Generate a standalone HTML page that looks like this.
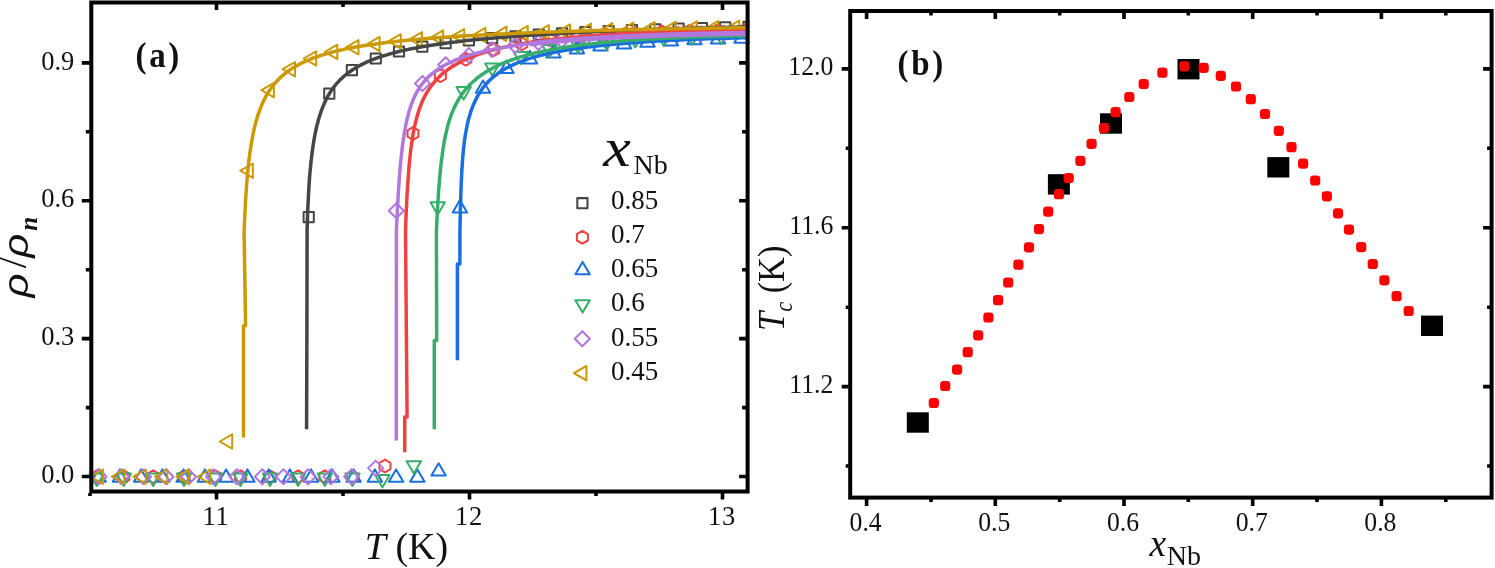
<!DOCTYPE html>
<html><head><meta charset="utf-8"><title>figure</title>
<style>html,body{margin:0;padding:0;background:#fff}body{width:1495px;height:568px;overflow:hidden}</style></head>
<body>
<svg width="1495" height="568" viewBox="0 0 1495 568" style="display:block;filter:blur(0.45px)">
<rect width="1495" height="568" fill="#fff"/>
<clipPath id="ca"><rect x="88.3" y="2.5" width="661.3" height="489.0"/></clipPath>
<g clip-path="url(#ca)" fill="none" stroke-linejoin="round">
<g stroke="#454545" stroke-width="2.0">
<rect x="303.6" y="212.1" width="10.2" height="10.2"/>
<rect x="324.2" y="88.6" width="10.2" height="10.2"/>
<rect x="346.8" y="65.1" width="10.2" height="10.2"/>
<rect x="370.7" y="53.4" width="10.2" height="10.2"/>
<rect x="393.9" y="46.4" width="10.2" height="10.2"/>
<rect x="417.2" y="41.6" width="10.2" height="10.2"/>
<rect x="440.5" y="38.0" width="10.2" height="10.2"/>
<rect x="463.8" y="35.2" width="10.2" height="10.2"/>
<rect x="487.1" y="33.0" width="10.2" height="10.2"/>
<rect x="510.4" y="31.2" width="10.2" height="10.2"/>
<rect x="533.7" y="29.6" width="10.2" height="10.2"/>
<rect x="557.0" y="28.2" width="10.2" height="10.2"/>
<rect x="580.3" y="27.1" width="10.2" height="10.2"/>
<rect x="603.6" y="26.0" width="10.2" height="10.2"/>
<rect x="626.9" y="25.1" width="10.2" height="10.2"/>
<rect x="650.2" y="24.3" width="10.2" height="10.2"/>
<rect x="673.5" y="23.6" width="10.2" height="10.2"/>
<rect x="696.8" y="22.9" width="10.2" height="10.2"/>
<rect x="720.1" y="22.3" width="10.2" height="10.2"/>
<rect x="743.4" y="21.8" width="10.2" height="10.2"/>
</g>
<g stroke="#F14040" stroke-width="2.0">
<polygon points="96.7,470.3 102.2,473.5 102.2,479.9 96.7,483.1 91.2,479.9 91.2,473.5"/>
<polygon points="123.8,470.3 129.3,473.5 129.3,479.9 123.8,483.1 118.3,479.9 118.3,473.5"/>
<polygon points="153.2,470.3 158.7,473.5 158.7,479.9 153.2,483.1 147.7,479.9 147.7,473.5"/>
<polygon points="184.0,470.3 189.5,473.5 189.5,479.9 184.0,483.1 178.5,479.9 178.5,473.5"/>
<polygon points="215.5,470.3 221.0,473.5 221.0,479.9 215.5,483.1 210.0,479.9 210.0,473.5"/>
<polygon points="240.5,470.3 246.0,473.5 246.0,479.9 240.5,483.1 235.0,479.9 235.0,473.5"/>
<polygon points="270.0,470.3 275.5,473.5 275.5,479.9 270.0,483.1 264.5,479.9 264.5,473.5"/>
<polygon points="298.1,470.3 303.6,473.5 303.6,479.9 298.1,483.1 292.6,479.9 292.6,473.5"/>
<polygon points="324.8,470.3 330.3,473.5 330.3,479.9 324.8,483.1 319.3,479.9 319.3,473.5"/>
<polygon points="352.5,470.3 358.0,473.5 358.0,479.9 352.5,483.1 347.0,479.9 347.0,473.5"/>
<polygon points="385.0,459.6 390.5,462.8 390.5,469.2 385.0,472.4 379.5,469.2 379.5,462.8"/>
<polygon points="413.0,127.1 418.5,130.3 418.5,136.7 413.0,139.9 407.5,136.7 407.5,130.3"/>
<polygon points="440.4,69.3 445.9,72.5 445.9,78.9 440.4,82.1 434.9,78.9 434.9,72.5"/>
<polygon points="465.8,52.9 471.3,56.1 471.3,62.5 465.8,65.7 460.3,62.5 460.3,56.1"/>
<polygon points="493.8,43.3 499.3,46.5 499.3,52.9 493.8,56.1 488.3,52.9 488.3,46.5"/>
<polygon points="521.8,37.4 527.3,40.6 527.3,47.0 521.8,50.2 516.3,47.0 516.3,40.6"/>
<polygon points="549.8,33.4 555.3,36.6 555.3,43.0 549.8,46.2 544.3,43.0 544.3,36.6"/>
<polygon points="577.8,30.5 583.3,33.7 583.3,40.1 577.8,43.3 572.3,40.1 572.3,33.7"/>
<polygon points="605.8,28.4 611.3,31.6 611.3,38.0 605.8,41.2 600.3,38.0 600.3,31.6"/>
<polygon points="633.8,26.8 639.3,30.0 639.3,36.4 633.8,39.6 628.3,36.4 628.3,30.0"/>
<polygon points="661.8,25.6 667.3,28.8 667.3,35.2 661.8,38.4 656.3,35.2 656.3,28.8"/>
<polygon points="689.8,24.7 695.3,27.9 695.3,34.3 689.8,37.5 684.3,34.3 684.3,27.9"/>
<polygon points="717.8,24.0 723.3,27.2 723.3,33.6 717.8,36.8 712.3,33.6 712.3,27.2"/>
<polygon points="745.8,23.5 751.3,26.7 751.3,33.1 745.8,36.3 740.3,33.1 740.3,26.7"/>
</g>
<g stroke="#1A6FDF" stroke-width="2.0">
<polygon points="417.4,469.4 424.6,481.8 410.2,481.8"/>
<polygon points="396.1,469.4 403.3,481.8 388.9,481.8"/>
<polygon points="374.9,469.4 382.1,481.8 367.7,481.8"/>
<polygon points="353.6,469.4 360.8,481.8 346.4,481.8"/>
<polygon points="332.4,469.4 339.6,481.8 325.2,481.8"/>
<polygon points="311.1,469.4 318.3,481.8 303.9,481.8"/>
<polygon points="289.9,469.4 297.1,481.8 282.7,481.8"/>
<polygon points="268.6,469.4 275.8,481.8 261.4,481.8"/>
<polygon points="247.4,469.4 254.6,481.8 240.2,481.8"/>
<polygon points="226.1,469.4 233.3,481.8 218.9,481.8"/>
<polygon points="204.9,469.4 212.1,481.8 197.7,481.8"/>
<polygon points="183.6,469.4 190.8,481.8 176.4,481.8"/>
<polygon points="162.4,469.4 169.6,481.8 155.2,481.8"/>
<polygon points="141.1,469.4 148.3,481.8 133.9,481.8"/>
<polygon points="119.9,469.4 127.1,481.8 112.7,481.8"/>
<polygon points="98.6,469.4 105.8,481.8 91.4,481.8"/>
<polygon points="438.6,463.2 445.8,475.6 431.4,475.6"/>
<polygon points="459.9,200.1 467.1,212.6 452.7,212.6"/>
<polygon points="483.0,80.4 490.2,92.8 475.8,92.8"/>
<polygon points="506.5,60.6 513.7,73.0 499.3,73.0"/>
<polygon points="530.0,50.9 537.2,63.4 522.8,63.4"/>
<polygon points="553.5,45.0 560.7,57.5 546.3,57.5"/>
<polygon points="577.0,41.0 584.2,53.4 569.8,53.4"/>
<polygon points="600.5,38.1 607.7,50.6 593.3,50.6"/>
<polygon points="624.0,35.9 631.2,48.4 616.8,48.4"/>
<polygon points="647.5,34.2 654.7,46.7 640.3,46.7"/>
<polygon points="671.0,32.9 678.2,45.4 663.8,45.4"/>
<polygon points="694.5,31.8 701.7,44.3 687.3,44.3"/>
<polygon points="718.0,31.0 725.2,43.4 710.8,43.4"/>
<polygon points="741.5,30.3 748.7,42.8 734.3,42.8"/>
</g>
<g stroke="#37AD6B" stroke-width="2.0">
<polygon points="96.7,485.9 103.9,473.5 89.5,473.5"/>
<polygon points="123.8,485.9 131.0,473.5 116.6,473.5"/>
<polygon points="153.2,485.9 160.4,473.5 146.0,473.5"/>
<polygon points="184.0,485.9 191.2,473.5 176.8,473.5"/>
<polygon points="215.5,485.9 222.7,473.5 208.3,473.5"/>
<polygon points="240.5,485.9 247.7,473.5 233.3,473.5"/>
<polygon points="270.0,485.9 277.2,473.5 262.8,473.5"/>
<polygon points="298.1,485.9 305.3,473.5 290.9,473.5"/>
<polygon points="324.8,485.9 332.0,473.5 317.6,473.5"/>
<polygon points="352.5,485.9 359.7,473.5 345.3,473.5"/>
<polygon points="382.4,487.5 389.6,475.1 375.2,475.1"/>
<polygon points="413.8,473.6 421.0,461.2 406.6,461.2"/>
<polygon points="437.7,214.7 444.9,202.2 430.5,202.2"/>
<polygon points="463.7,99.4 470.9,87.0 456.5,87.0"/>
<polygon points="492.3,75.8 499.5,63.4 485.1,63.4"/>
<polygon points="520.9,64.3 528.1,51.9 513.7,51.9"/>
<polygon points="549.5,57.4 556.7,45.0 542.3,45.0"/>
<polygon points="578.1,52.9 585.3,40.4 570.9,40.4"/>
<polygon points="606.7,49.7 613.9,37.3 599.5,37.3"/>
<polygon points="635.3,47.5 642.5,35.0 628.1,35.0"/>
<polygon points="663.9,45.9 671.1,33.4 656.7,33.4"/>
<polygon points="692.5,44.7 699.7,32.2 685.3,32.2"/>
<polygon points="721.1,43.9 728.3,31.4 713.9,31.4"/>
<polygon points="749.7,43.3 756.9,30.9 742.5,30.9"/>
</g>
<g stroke="#B177DE" stroke-width="2.0">
<polygon points="99.0,469.2 106.5,476.7 99.0,484.2 91.5,476.7"/>
<polygon points="121.5,469.2 129.0,476.7 121.5,484.2 114.0,476.7"/>
<polygon points="143.5,469.2 151.0,476.7 143.5,484.2 136.0,476.7"/>
<polygon points="166.0,469.2 173.5,476.7 166.0,484.2 158.5,476.7"/>
<polygon points="188.7,469.2 196.2,476.7 188.7,484.2 181.2,476.7"/>
<polygon points="213.4,469.2 220.9,476.7 213.4,484.2 205.9,476.7"/>
<polygon points="236.9,469.2 244.4,476.7 236.9,484.2 229.4,476.7"/>
<polygon points="262.3,469.2 269.8,476.7 262.3,484.2 254.8,476.7"/>
<polygon points="283.4,469.2 290.9,476.7 283.4,484.2 275.9,476.7"/>
<polygon points="308.1,469.2 315.6,476.7 308.1,484.2 300.6,476.7"/>
<polygon points="330.9,469.2 338.4,476.7 330.9,484.2 323.4,476.7"/>
<polygon points="351.6,469.2 359.1,476.7 351.6,484.2 344.1,476.7"/>
<polygon points="375.7,460.6 383.2,468.1 375.7,475.6 368.2,468.1"/>
<polygon points="396.3,203.3 403.8,210.8 396.3,218.3 388.8,210.8"/>
<polygon points="422.5,76.0 430.0,83.5 422.5,91.0 415.0,83.5"/>
<polygon points="445.7,57.2 453.2,64.7 445.7,72.2 438.2,64.7"/>
<polygon points="468.9,47.9 476.4,55.4 468.9,62.9 461.4,55.4"/>
<polygon points="492.1,42.1 499.6,49.6 492.1,57.1 484.6,49.6"/>
<polygon points="515.3,38.0 522.8,45.5 515.3,53.0 507.8,45.5"/>
<polygon points="538.5,35.0 546.0,42.5 538.5,50.0 531.0,42.5"/>
<polygon points="561.7,32.8 569.2,40.3 561.7,47.8 554.2,40.3"/>
<polygon points="584.9,31.0 592.4,38.5 584.9,46.0 577.4,38.5"/>
<polygon points="608.1,29.6 615.6,37.1 608.1,44.6 600.6,37.1"/>
<polygon points="631.3,28.5 638.8,36.0 631.3,43.5 623.8,36.0"/>
<polygon points="654.5,27.6 662.0,35.1 654.5,42.6 647.0,35.1"/>
<polygon points="677.7,26.8 685.2,34.3 677.7,41.8 670.2,34.3"/>
<polygon points="700.9,26.3 708.4,33.8 700.9,41.3 693.4,33.8"/>
<polygon points="724.1,25.8 731.6,33.3 724.1,40.8 716.6,33.3"/>
<polygon points="747.3,25.5 754.8,33.0 747.3,40.5 739.8,33.0"/>
</g>
<g stroke="#CC9900" stroke-width="2.0">
<polygon points="90.4,476.7 102.9,469.5 102.9,483.9"/>
<polygon points="111.9,476.7 124.4,469.5 124.4,483.9"/>
<polygon points="133.4,476.7 145.8,469.5 145.8,483.9"/>
<polygon points="154.9,476.7 167.3,469.5 167.3,483.9"/>
<polygon points="176.4,476.7 188.8,469.5 188.8,483.9"/>
<polygon points="197.9,476.7 210.3,469.5 210.3,483.9"/>
<polygon points="219.7,441.5 232.2,434.3 232.2,448.7"/>
<polygon points="240.3,170.7 252.8,163.5 252.8,177.9"/>
<polygon points="261.4,90.1 273.9,82.9 273.9,97.3"/>
<polygon points="282.6,69.2 295.0,62.0 295.0,76.4"/>
<polygon points="303.7,58.5 316.2,51.3 316.2,65.7"/>
<polygon points="324.9,51.9 337.3,44.7 337.3,59.1"/>
<polygon points="346.0,47.3 358.5,40.1 358.5,54.5"/>
<polygon points="367.2,44.0 379.6,36.8 379.6,51.2"/>
<polygon points="388.3,41.4 400.8,34.2 400.8,48.6"/>
<polygon points="409.5,39.3 421.9,32.1 421.9,46.5"/>
<polygon points="430.6,37.6 443.1,30.4 443.1,44.8"/>
<polygon points="451.8,36.2 464.2,29.0 464.2,43.4"/>
<polygon points="472.9,35.0 485.4,27.8 485.4,42.2"/>
<polygon points="494.1,33.9 506.5,26.7 506.5,41.1"/>
<polygon points="515.2,33.0 527.7,25.8 527.7,40.2"/>
<polygon points="536.4,32.2 548.8,25.0 548.8,39.4"/>
<polygon points="557.5,31.5 570.0,24.3 570.0,38.7"/>
<polygon points="578.7,30.9 591.1,23.7 591.1,38.1"/>
<polygon points="599.8,30.3 612.3,23.1 612.3,37.5"/>
<polygon points="621.0,29.8 633.4,22.6 633.4,37.0"/>
<polygon points="642.1,29.3 654.6,22.1 654.6,36.5"/>
<polygon points="663.3,28.9 675.7,21.7 675.7,36.1"/>
<polygon points="684.4,28.5 696.9,21.3 696.9,35.7"/>
<polygon points="705.6,28.2 718.0,21.0 718.0,35.4"/>
<polygon points="726.7,27.8 739.2,20.6 739.2,35.0"/>
</g>
<path d="M306.6 429.2 L306.9 330.0 L307.1 232.0 L307.1 231.9 L307.1 231.7 L307.1 231.2 L307.1 230.3 L307.1 229.1 L307.2 227.5 L307.2 225.5 L307.3 223.1 L307.4 220.4 L307.5 217.3 L307.6 214.0 L307.7 210.4 L307.9 206.7 L308.1 202.8 L308.3 198.8 L308.5 194.7 L308.7 190.6 L309.0 186.5 L309.2 182.4 L309.5 178.3 L309.8 174.3 L310.2 170.3 L310.6 166.4 L310.9 162.5 L311.4 158.7 L311.8 155.0 L312.3 151.3 L312.8 147.8 L313.3 144.3 L313.9 140.9 L314.4 137.6 L315.0 134.4 L315.7 131.2 L316.3 128.2 L317.0 125.2 L317.8 122.4 L318.5 119.6 L319.3 116.9 L320.2 114.2 L321.0 111.7 L321.9 109.3 L322.8 106.9 L323.8 104.6 L324.8 102.3 L325.8 100.2 L326.8 98.1 L327.9 96.1 L329.1 94.1 L330.2 92.2 L331.4 90.4 L332.7 88.6 L333.9 86.9 L335.2 85.3 L336.6 83.6 L338.0 82.1 L339.4 80.6 L340.9 79.1 L342.4 77.7 L343.9 76.3 L345.5 75.0 L347.1 73.7 L348.8 72.4 L350.5 71.2 L352.2 70.0 L354.0 68.9 L355.8 67.8 L357.7 66.7 L359.6 65.6 L361.6 64.6 L363.6 63.6 L365.6 62.7 L367.7 61.7 L369.8 60.8 L372.0 59.9 L374.2 59.0 L376.5 58.2 L378.8 57.4 L381.1 56.6 L383.5 55.8 L386.0 55.1 L388.5 54.3 L391.0 53.6 L393.6 52.9 L396.2 52.2 L398.9 51.5 L401.6 50.9 L404.4 50.3 L407.2 49.6 L410.1 49.0 L413.0 48.4 L416.0 47.9 L419.0 47.3 L422.0 46.7 L425.2 46.2 L428.3 45.7 L431.5 45.2 L434.8 44.7 L438.1 44.2 L441.5 43.7 L444.9 43.2 L448.4 42.8 L451.9 42.3 L455.5 41.9 L459.1 41.4 L462.8 41.0 L466.5 40.6 L470.3 40.2 L474.2 39.8 L478.0 39.4 L482.0 39.0 L486.0 38.7 L490.1 38.3 L494.2 37.9 L498.3 37.6 L502.6 37.2 L506.8 36.9 L511.2 36.6 L515.6 36.2 L520.0 35.9 L524.5 35.6 L529.1 35.3 L533.7 35.0 L538.4 34.7 L543.1 34.4 L547.9 34.1 L552.7 33.9 L557.6 33.6 L562.6 33.3 L567.6 33.1 L572.7 32.8 L577.8 32.5 L583.0 32.3 L588.3 32.0 L593.6 31.8 L599.0 31.6 L604.4 31.3 L609.9 31.1 L615.5 30.9 L621.1 30.7 L626.7 30.4 L632.5 30.2 L638.3 30.0 L644.1 29.8 L650.1 29.6 L656.1 29.4 L662.1 29.2 L668.2 29.0 L674.4 28.8 L680.6 28.6 L686.9 28.5 L693.3 28.3 L699.7 28.1 L706.2 27.9 L712.8 27.7 L719.4 27.6 L726.1 27.4 L732.8 27.2 L739.6 27.1 L746.5 26.9" stroke="#454545" stroke-width="3.5"/>
<path d="M404.7 452.3 L404.7 416.9 L407.1 416.9 L405.5 232.0 L405.5 232.0 L405.5 231.8 L405.5 231.5 L405.5 231.0 L405.5 230.3 L405.6 229.3 L405.6 228.1 L405.7 226.6 L405.7 224.8 L405.8 222.8 L405.9 220.5 L406.0 217.9 L406.1 215.0 L406.2 212.0 L406.4 208.7 L406.6 205.2 L406.7 201.6 L406.9 197.8 L407.1 193.9 L407.4 190.0 L407.6 185.9 L407.9 181.9 L408.2 177.8 L408.5 173.7 L408.8 169.7 L409.1 165.7 L409.5 161.7 L409.9 157.9 L410.3 154.1 L410.7 150.4 L411.2 146.8 L411.7 143.4 L412.2 140.0 L412.7 136.7 L413.2 133.6 L413.8 130.5 L414.4 127.5 L415.0 124.7 L415.6 121.9 L416.3 119.3 L417.0 116.7 L417.7 114.2 L418.4 111.8 L419.2 109.5 L420.0 107.3 L420.8 105.1 L421.7 103.0 L422.5 101.0 L423.4 99.0 L424.4 97.1 L425.3 95.3 L426.3 93.5 L427.3 91.8 L428.4 90.1 L429.5 88.4 L430.6 86.8 L431.7 85.3 L432.9 83.8 L434.1 82.3 L435.3 80.9 L436.6 79.5 L437.8 78.2 L439.2 76.9 L440.5 75.6 L441.9 74.3 L443.3 73.1 L444.8 71.9 L446.3 70.8 L447.8 69.6 L449.3 68.5 L450.9 67.5 L452.5 66.4 L454.2 65.4 L455.9 64.4 L457.6 63.4 L459.3 62.5 L461.1 61.6 L462.9 60.7 L464.8 59.8 L466.7 58.9 L468.6 58.1 L470.6 57.3 L472.6 56.5 L474.6 55.7 L476.7 55.0 L478.8 54.2 L481.0 53.5 L483.2 52.8 L485.4 52.1 L487.7 51.4 L490.0 50.8 L492.3 50.1 L494.7 49.5 L497.1 48.9 L499.6 48.3 L502.1 47.7 L504.6 47.1 L507.2 46.6 L509.8 46.0 L512.4 45.5 L515.1 45.0 L517.9 44.5 L520.6 44.0 L523.5 43.5 L526.3 43.0 L529.2 42.6 L532.2 42.1 L535.1 41.7 L538.2 41.3 L541.2 40.8 L544.3 40.4 L547.5 40.0 L550.7 39.7 L553.9 39.3 L557.2 38.9 L560.5 38.5 L563.9 38.2 L567.3 37.9 L570.7 37.5 L574.2 37.2 L577.8 36.9 L581.3 36.6 L585.0 36.3 L588.6 36.0 L592.4 35.7 L596.1 35.4 L599.9 35.2 L603.8 34.9 L607.7 34.6 L611.6 34.4 L615.6 34.2 L619.6 33.9 L623.7 33.7 L627.8 33.5 L632.0 33.3 L636.2 33.1 L640.5 32.9 L644.8 32.7 L649.2 32.5 L653.6 32.3 L658.0 32.1 L662.5 31.9 L667.1 31.8 L671.7 31.6 L676.3 31.5 L681.0 31.3 L685.7 31.2 L690.5 31.0 L695.4 30.9 L700.3 30.8 L705.2 30.7 L710.2 30.5 L715.2 30.4 L720.3 30.3 L725.5 30.2 L730.6 30.1 L735.9 30.0 L741.2 29.9 L746.5 29.8" stroke="#F14040" stroke-width="3.5"/>
<path d="M457.4 360.2 L457.4 264.0 L459.9 264.0 L459.9 232.0 L459.9 232.0 L459.9 231.7 L459.9 231.2 L459.9 230.5 L460.0 229.3 L460.0 227.8 L460.0 226.0 L460.1 223.7 L460.1 221.1 L460.2 218.1 L460.3 214.8 L460.3 211.2 L460.4 207.4 L460.6 203.4 L460.7 199.2 L460.8 194.9 L461.0 190.6 L461.1 186.2 L461.3 181.9 L461.5 177.7 L461.7 173.6 L461.9 169.5 L462.2 165.6 L462.4 161.8 L462.7 158.2 L463.0 154.7 L463.3 151.3 L463.6 148.1 L464.0 145.0 L464.3 142.1 L464.7 139.2 L465.1 136.5 L465.5 133.9 L466.0 131.3 L466.4 128.9 L466.9 126.5 L467.4 124.2 L467.9 122.0 L468.4 119.8 L469.0 117.7 L469.6 115.7 L470.2 113.7 L470.8 111.8 L471.4 109.9 L472.1 108.1 L472.8 106.3 L473.5 104.5 L474.3 102.8 L475.0 101.2 L475.8 99.6 L476.6 98.0 L477.4 96.4 L478.3 94.9 L479.2 93.5 L480.1 92.0 L481.0 90.6 L482.0 89.3 L482.9 87.9 L483.9 86.6 L485.0 85.4 L486.0 84.1 L487.1 82.9 L488.2 81.8 L489.4 80.6 L490.5 79.5 L491.7 78.4 L492.9 77.3 L494.2 76.3 L495.5 75.3 L496.8 74.3 L498.1 73.3 L499.4 72.4 L500.8 71.4 L502.3 70.5 L503.7 69.7 L505.2 68.8 L506.7 68.0 L508.2 67.2 L509.8 66.4 L511.4 65.6 L513.0 64.8 L514.6 64.1 L516.3 63.4 L518.0 62.6 L519.8 62.0 L521.6 61.3 L523.4 60.6 L525.2 60.0 L527.1 59.3 L529.0 58.7 L530.9 58.1 L532.9 57.5 L534.9 57.0 L536.9 56.4 L539.0 55.8 L541.1 55.3 L543.2 54.8 L545.4 54.3 L547.6 53.8 L549.8 53.3 L552.1 52.8 L554.4 52.3 L556.7 51.9 L559.1 51.4 L561.5 51.0 L563.9 50.6 L566.4 50.1 L568.9 49.7 L571.4 49.3 L574.0 48.9 L576.6 48.6 L579.3 48.2 L581.9 47.8 L584.7 47.5 L587.4 47.1 L590.2 46.8 L593.0 46.4 L595.9 46.1 L598.8 45.8 L601.7 45.5 L604.7 45.2 L607.7 44.9 L610.8 44.6 L613.8 44.3 L617.0 44.0 L620.1 43.7 L623.3 43.5 L626.6 43.2 L629.8 43.0 L633.1 42.7 L636.5 42.5 L639.9 42.2 L643.3 42.0 L646.8 41.8 L650.3 41.6 L653.8 41.3 L657.4 41.1 L661.0 40.9 L664.7 40.7 L668.4 40.5 L672.1 40.3 L675.9 40.2 L679.7 40.0 L683.6 39.8 L687.5 39.6 L691.5 39.5 L695.4 39.3 L699.5 39.1 L703.5 39.0 L707.6 38.8 L711.8 38.7 L716.0 38.6 L720.2 38.4 L724.5 38.3 L728.8 38.2 L733.2 38.0 L737.6 37.9 L742.0 37.8 L746.5 37.7" stroke="#1A6FDF" stroke-width="3.5"/>
<path d="M434.3 429.2 L434.3 340.5 L436.7 340.5 L436.4 232.0 L436.4 232.0 L436.4 231.9 L436.4 231.6 L436.4 231.3 L436.5 230.7 L436.5 230.0 L436.5 229.0 L436.6 227.9 L436.7 226.5 L436.7 224.9 L436.8 223.1 L436.9 221.1 L437.0 218.8 L437.1 216.4 L437.3 213.8 L437.4 210.9 L437.6 208.0 L437.8 204.8 L437.9 201.6 L438.2 198.2 L438.4 194.8 L438.6 191.2 L438.9 187.7 L439.2 184.0 L439.5 180.4 L439.8 176.8 L440.1 173.2 L440.5 169.6 L440.8 166.1 L441.2 162.6 L441.6 159.2 L442.1 155.8 L442.5 152.5 L443.0 149.3 L443.5 146.2 L444.0 143.2 L444.5 140.2 L445.1 137.4 L445.7 134.6 L446.3 131.9 L446.9 129.3 L447.5 126.8 L448.2 124.3 L448.9 121.9 L449.6 119.6 L450.4 117.4 L451.1 115.2 L451.9 113.1 L452.8 111.1 L453.6 109.1 L454.5 107.2 L455.4 105.3 L456.3 103.5 L457.3 101.8 L458.2 100.1 L459.2 98.4 L460.3 96.8 L461.3 95.2 L462.4 93.6 L463.5 92.1 L464.7 90.7 L465.9 89.2 L467.1 87.8 L468.3 86.5 L469.5 85.1 L470.8 83.8 L472.2 82.5 L473.5 81.3 L474.9 80.1 L476.3 78.9 L477.7 77.7 L479.2 76.6 L480.7 75.5 L482.2 74.4 L483.8 73.4 L485.4 72.3 L487.0 71.3 L488.7 70.3 L490.4 69.4 L492.1 68.4 L493.9 67.5 L495.6 66.6 L497.5 65.7 L499.3 64.8 L501.2 64.0 L503.1 63.2 L505.1 62.4 L507.1 61.6 L509.1 60.8 L511.2 60.0 L513.3 59.3 L515.4 58.6 L517.5 57.9 L519.7 57.2 L522.0 56.5 L524.3 55.9 L526.6 55.2 L528.9 54.6 L531.3 54.0 L533.7 53.4 L536.1 52.8 L538.6 52.2 L541.1 51.7 L543.7 51.1 L546.3 50.6 L548.9 50.1 L551.6 49.5 L554.3 49.1 L557.1 48.6 L559.9 48.1 L562.7 47.6 L565.5 47.2 L568.4 46.7 L571.4 46.3 L574.4 45.9 L577.4 45.5 L580.4 45.1 L583.5 44.7 L586.7 44.3 L589.9 44.0 L593.1 43.6 L596.3 43.3 L599.6 42.9 L603.0 42.6 L606.3 42.3 L609.8 42.0 L613.2 41.7 L616.7 41.4 L620.3 41.1 L623.8 40.8 L627.5 40.5 L631.1 40.3 L634.8 40.0 L638.6 39.8 L642.4 39.5 L646.2 39.3 L650.1 39.1 L654.0 38.9 L658.0 38.6 L662.0 38.4 L666.0 38.2 L670.1 38.1 L674.3 37.9 L678.5 37.7 L682.7 37.5 L687.0 37.4 L691.3 37.2 L695.6 37.1 L700.0 36.9 L704.5 36.8 L709.0 36.7 L713.5 36.5 L718.1 36.4 L722.7 36.3 L727.4 36.2 L732.1 36.1 L736.8 36.0 L741.6 35.9 L746.5 35.9" stroke="#37AD6B" stroke-width="3.5"/>
<path d="M396.3 440.5 L396.4 232.0 L396.4 232.0 L396.4 231.8 L396.4 231.6 L396.4 231.1 L396.4 230.5 L396.5 229.6 L396.5 228.6 L396.6 227.2 L396.6 225.6 L396.7 223.8 L396.8 221.7 L396.9 219.4 L397.0 216.8 L397.2 213.9 L397.3 210.9 L397.5 207.6 L397.7 204.2 L397.9 200.5 L398.1 196.8 L398.3 192.9 L398.6 188.9 L398.9 184.8 L399.1 180.6 L399.5 176.5 L399.8 172.3 L400.1 168.1 L400.5 164.0 L400.9 159.9 L401.3 155.8 L401.8 151.8 L402.2 147.9 L402.7 144.1 L403.2 140.4 L403.8 136.8 L404.3 133.3 L404.9 130.0 L405.5 126.7 L406.1 123.6 L406.8 120.5 L407.5 117.6 L408.2 114.8 L408.9 112.1 L409.7 109.5 L410.5 107.1 L411.3 104.7 L412.1 102.4 L413.0 100.2 L413.9 98.1 L414.8 96.1 L415.8 94.1 L416.8 92.3 L417.8 90.5 L418.8 88.8 L419.9 87.1 L421.0 85.5 L422.1 84.0 L423.3 82.5 L424.5 81.1 L425.7 79.7 L427.0 78.3 L428.3 77.0 L429.6 75.8 L431.0 74.6 L432.4 73.4 L433.8 72.3 L435.2 71.2 L436.7 70.1 L438.2 69.1 L439.8 68.1 L441.4 67.1 L443.0 66.1 L444.7 65.2 L446.4 64.3 L448.1 63.5 L449.9 62.6 L451.7 61.8 L453.5 61.0 L455.4 60.2 L457.3 59.4 L459.2 58.7 L461.2 57.9 L463.2 57.2 L465.3 56.5 L467.4 55.9 L469.5 55.2 L471.7 54.5 L473.9 53.9 L476.2 53.3 L478.4 52.7 L480.8 52.1 L483.1 51.5 L485.5 51.0 L488.0 50.4 L490.5 49.9 L493.0 49.4 L495.5 48.9 L498.1 48.4 L500.8 47.9 L503.5 47.4 L506.2 46.9 L509.0 46.5 L511.8 46.0 L514.6 45.6 L517.5 45.2 L520.4 44.8 L523.4 44.4 L526.4 44.0 L529.5 43.6 L532.6 43.2 L535.7 42.9 L538.9 42.5 L542.2 42.1 L545.4 41.8 L548.8 41.5 L552.1 41.1 L555.5 40.8 L559.0 40.5 L562.5 40.2 L566.0 39.9 L569.6 39.6 L573.3 39.3 L576.9 39.1 L580.7 38.8 L584.4 38.5 L588.2 38.3 L592.1 38.0 L596.0 37.8 L600.0 37.6 L604.0 37.3 L608.0 37.1 L612.1 36.9 L616.2 36.7 L620.4 36.5 L624.7 36.3 L628.9 36.1 L633.3 35.9 L637.7 35.7 L642.1 35.5 L646.6 35.4 L651.1 35.2 L655.7 35.0 L660.3 34.9 L664.9 34.7 L669.7 34.6 L674.4 34.4 L679.3 34.3 L684.1 34.2 L689.0 34.0 L694.0 33.9 L699.0 33.8 L704.1 33.7 L709.2 33.6 L714.4 33.5 L719.6 33.4 L724.9 33.3 L730.2 33.2 L735.6 33.1 L741.0 33.0 L746.5 33.0" stroke="#B177DE" stroke-width="3.5"/>
<clipPath id="ct"><rect x="530" y="0" width="230" height="120"/></clipPath>
<path d="M396.3 440.5 L396.4 232.0 L396.4 232.0 L396.4 231.8 L396.4 231.6 L396.4 231.1 L396.4 230.5 L396.5 229.6 L396.5 228.6 L396.6 227.2 L396.6 225.6 L396.7 223.8 L396.8 221.7 L396.9 219.4 L397.0 216.8 L397.2 213.9 L397.3 210.9 L397.5 207.6 L397.7 204.2 L397.9 200.5 L398.1 196.8 L398.3 192.9 L398.6 188.9 L398.9 184.8 L399.1 180.6 L399.5 176.5 L399.8 172.3 L400.1 168.1 L400.5 164.0 L400.9 159.9 L401.3 155.8 L401.8 151.8 L402.2 147.9 L402.7 144.1 L403.2 140.4 L403.8 136.8 L404.3 133.3 L404.9 130.0 L405.5 126.7 L406.1 123.6 L406.8 120.5 L407.5 117.6 L408.2 114.8 L408.9 112.1 L409.7 109.5 L410.5 107.1 L411.3 104.7 L412.1 102.4 L413.0 100.2 L413.9 98.1 L414.8 96.1 L415.8 94.1 L416.8 92.3 L417.8 90.5 L418.8 88.8 L419.9 87.1 L421.0 85.5 L422.1 84.0 L423.3 82.5 L424.5 81.1 L425.7 79.7 L427.0 78.3 L428.3 77.0 L429.6 75.8 L431.0 74.6 L432.4 73.4 L433.8 72.3 L435.2 71.2 L436.7 70.1 L438.2 69.1 L439.8 68.1 L441.4 67.1 L443.0 66.1 L444.7 65.2 L446.4 64.3 L448.1 63.5 L449.9 62.6 L451.7 61.8 L453.5 61.0 L455.4 60.2 L457.3 59.4 L459.2 58.7 L461.2 57.9 L463.2 57.2 L465.3 56.5 L467.4 55.9 L469.5 55.2 L471.7 54.5 L473.9 53.9 L476.2 53.3 L478.4 52.7 L480.8 52.1 L483.1 51.5 L485.5 51.0 L488.0 50.4 L490.5 49.9 L493.0 49.4 L495.5 48.9 L498.1 48.4 L500.8 47.9 L503.5 47.4 L506.2 46.9 L509.0 46.5 L511.8 46.0 L514.6 45.6 L517.5 45.2 L520.4 44.8 L523.4 44.4 L526.4 44.0 L529.5 43.6 L532.6 43.2 L535.7 42.9 L538.9 42.5 L542.2 42.1 L545.4 41.8 L548.8 41.5 L552.1 41.1 L555.5 40.8 L559.0 40.5 L562.5 40.2 L566.0 39.9 L569.6 39.6 L573.3 39.3 L576.9 39.1 L580.7 38.8 L584.4 38.5 L588.2 38.3 L592.1 38.0 L596.0 37.8 L600.0 37.6 L604.0 37.3 L608.0 37.1 L612.1 36.9 L616.2 36.7 L620.4 36.5 L624.7 36.3 L628.9 36.1 L633.3 35.9 L637.7 35.7 L642.1 35.5 L646.6 35.4 L651.1 35.2 L655.7 35.0 L660.3 34.9 L664.9 34.7 L669.7 34.6 L674.4 34.4 L679.3 34.3 L684.1 34.2 L689.0 34.0 L694.0 33.9 L699.0 33.8 L704.1 33.7 L709.2 33.6 L714.4 33.5 L719.6 33.4 L724.9 33.3 L730.2 33.2 L735.6 33.1 L741.0 33.0 L746.5 33.0" stroke="#B177DE" stroke-width="5.2" transform="translate(0,0.4)" clip-path="url(#ct)"/>
<path d="M243.5 437.6 L243.5 325.7 L245.6 325.7 L244.1 232.0 L244.1 232.0 L244.1 231.8 L244.1 231.4 L244.2 230.7 L244.2 229.7 L244.3 228.4 L244.3 226.8 L244.4 224.8 L244.5 222.4 L244.6 219.8 L244.8 216.8 L244.9 213.5 L245.1 210.0 L245.3 206.3 L245.5 202.3 L245.7 198.2 L246.0 194.0 L246.3 189.6 L246.6 185.3 L246.9 180.9 L247.3 176.5 L247.7 172.2 L248.1 167.9 L248.6 163.6 L249.0 159.5 L249.6 155.4 L250.1 151.4 L250.7 147.5 L251.3 143.8 L251.9 140.1 L252.6 136.5 L253.3 133.1 L254.0 129.7 L254.7 126.5 L255.5 123.4 L256.4 120.3 L257.2 117.4 L258.1 114.5 L259.1 111.8 L260.1 109.1 L261.1 106.6 L262.1 104.1 L263.2 101.7 L264.4 99.4 L265.5 97.1 L266.7 94.9 L268.0 92.8 L269.3 90.8 L270.6 88.9 L272.0 87.0 L273.4 85.1 L274.9 83.4 L276.3 81.7 L277.9 80.0 L279.5 78.4 L281.1 76.9 L282.8 75.4 L284.5 73.9 L286.3 72.5 L288.1 71.2 L289.9 69.9 L291.8 68.6 L293.8 67.4 L295.8 66.2 L297.8 65.1 L299.9 64.0 L302.0 62.9 L304.2 61.8 L306.4 60.8 L308.7 59.9 L311.1 58.9 L313.4 58.0 L315.9 57.1 L318.4 56.3 L320.9 55.4 L323.5 54.6 L326.1 53.8 L328.8 53.1 L331.5 52.3 L334.3 51.6 L337.2 50.9 L340.1 50.2 L343.0 49.6 L346.0 48.9 L349.1 48.3 L352.2 47.7 L355.4 47.1 L358.6 46.6 L361.9 46.0 L365.2 45.5 L368.6 44.9 L372.1 44.4 L375.6 43.9 L379.1 43.5 L382.7 43.0 L386.4 42.5 L390.2 42.1 L394.0 41.7 L397.8 41.2 L401.7 40.8 L405.7 40.4 L409.7 40.0 L413.8 39.6 L418.0 39.3 L422.2 38.9 L426.4 38.6 L430.8 38.2 L435.1 37.9 L439.6 37.5 L444.1 37.2 L448.7 36.9 L453.3 36.6 L458.0 36.3 L462.8 36.0 L467.6 35.7 L472.5 35.4 L477.5 35.2 L482.5 34.9 L487.6 34.6 L492.7 34.4 L497.9 34.1 L503.2 33.9 L508.5 33.7 L514.0 33.4 L519.4 33.2 L525.0 33.0 L530.6 32.7 L536.2 32.5 L542.0 32.3 L547.8 32.1 L553.7 31.9 L559.6 31.7 L565.6 31.5 L571.7 31.3 L577.8 31.2 L584.0 31.0 L590.3 30.8 L596.7 30.6 L603.1 30.5 L609.6 30.3 L616.2 30.1 L622.8 30.0 L629.5 29.8 L636.3 29.7 L643.1 29.5 L650.0 29.4 L657.0 29.2 L664.1 29.1 L671.2 28.9 L678.4 28.8 L685.7 28.7 L693.0 28.5 L700.4 28.4 L707.9 28.3 L715.5 28.1 L723.1 28.0 L730.9 27.9 L738.6 27.8 L746.5 27.7" stroke="#CC9900" stroke-width="3.5"/>
</g>
<g stroke="#000" fill="none" stroke-width="4">
<rect x="91.3" y="2.5" width="656.3" height="489.0"/>
<path d="M216.5 493.0 v6.5 M216.5 4.0 v6 M469.5 493.0 v6.5 M469.5 4.0 v6 M722.5 493.0 v6.5 M722.5 4.0 v6 M90.0 493.0 v3 M343.0 493.0 v3 M343.0 4.0 v3 M596.0 493.0 v3 M596.0 4.0 v3 M89.8 476.5 h-8 M746.1 476.5 h-7 M89.8 338.6 h-8 M746.1 338.6 h-7 M89.8 200.7 h-8 M746.1 200.7 h-7 M89.8 62.9 h-8 M746.1 62.9 h-7 M89.8 407.6 h-4 M746.1 407.6 h-4 M89.8 269.7 h-4 M746.1 269.7 h-4 M89.8 131.8 h-4 M746.1 131.8 h-4" stroke-width="3.6"/>
</g>
<g font-family="'Liberation Serif', serif" fill="#111">
<text transform="translate(74.3,483.1) scale(1,1.07)" font-size="26.5" text-anchor="end">0.0</text>
<text transform="translate(74.3,345.2) scale(1,1.07)" font-size="26.5" text-anchor="end">0.3</text>
<text transform="translate(74.3,207.3) scale(1,1.07)" font-size="26.5" text-anchor="end">0.6</text>
<text transform="translate(74.3,69.5) scale(1,1.07)" font-size="26.5" text-anchor="end">0.9</text>
<text transform="translate(215.9,525.2) scale(1,1.07)" font-size="26.5" text-anchor="middle" letter-spacing="0.6">11</text>
<text transform="translate(468.9,525.2) scale(1,1.07)" font-size="26.5" text-anchor="middle" letter-spacing="0.6">12</text>
<text transform="translate(721.9,525.2) scale(1,1.07)" font-size="26.5" text-anchor="middle" letter-spacing="0.6">13</text>
<text transform="translate(135.6,67.2) scale(1,1.06)" font-size="33" font-weight="bold" letter-spacing="2.6">(a)</text>
<text x="364.8" y="558.6" font-size="38"><tspan font-style="italic">T</tspan> (K)</text>
<g font-style="italic">
<text transform="translate(28.1,297.5) rotate(-90) scale(1.2,1)" font-family="'Liberation Sans', sans-serif" font-size="35">ρ</text>
<text transform="translate(28.1,257.7) rotate(-90) scale(1.2,1)" font-family="'Liberation Sans', sans-serif" font-size="35">ρ</text>
<text transform="translate(26.1,268.3) rotate(-90)" font-size="40" font-style="normal">/</text>
<text transform="translate(37,230.8) rotate(-90)" font-size="25" font-weight="bold">n</text>
</g>
<text transform="translate(603.3,165.6) scale(1.13,1)" font-size="55" font-style="italic">x</text>
<text x="633.5" y="174.2" font-size="28">Nb</text>
<text x="611" y="208.7" font-size="27">0.85</text>
<text x="611" y="242.9" font-size="27">0.7</text>
<text x="611" y="277.1" font-size="27">0.65</text>
<text x="611" y="311.3" font-size="27">0.6</text>
<text x="611" y="345.5" font-size="27">0.55</text>
<text x="611" y="379.7" font-size="27">0.45</text>
</g>
<g fill="none" stroke-width="2.05" stroke-linejoin="round">
<g stroke="#454545"><rect x="577.3" y="198.1" width="10.2" height="10.2"/></g>
<g stroke="#F14040"><polygon points="582.4,230.9 587.9,234.1 587.9,240.5 582.4,243.7 576.9,240.5 576.9,234.1"/></g>
<g stroke="#1A6FDF"><polygon points="582.6,261.9 589.8,274.3 575.4,274.3"/></g>
<g stroke="#37AD6B"><polygon points="582.6,312.6 589.8,300.2 575.4,300.2"/></g>
<g stroke="#B177DE"><polygon points="582.3,331.2 589.8,338.7 582.3,346.2 574.8,338.7"/></g>
<g stroke="#CC9900"><polygon points="573.9,373.2 586.4,366.0 586.4,380.4"/></g>
</g>
<g stroke="#000" fill="none" stroke-width="4">
<rect x="850.2" y="11.0" width="641.4" height="486.6"/>
<path d="M866.6 499.1 v7 M866.6 12.5 v6.5 M995.3 499.1 v7 M995.3 12.5 v6.5 M1124.0 499.1 v7 M1124.0 12.5 v6.5 M1252.7 499.1 v7 M1252.7 12.5 v6.5 M1381.4 499.1 v7 M1381.4 12.5 v6.5 M931.0 499.1 v3 M931.0 12.5 v3 M1059.7 499.1 v3 M1059.7 12.5 v3 M1188.3 499.1 v3 M1188.3 12.5 v3 M1317.0 499.1 v3 M1317.0 12.5 v3 M1445.8 499.1 v3 M1445.8 12.5 v3 M848.7 386.6 h-7 M1490.1 386.6 h-7 M848.7 227.7 h-7 M1490.1 227.7 h-7 M848.7 68.9 h-7 M1490.1 68.9 h-7 M848.7 466.0 h-3 M1490.1 466.0 h-3 M848.7 307.2 h-3 M1490.1 307.2 h-3 M848.7 148.3 h-3 M1490.1 148.3 h-3" stroke-width="3.6"/>
</g>
<g fill="#000">
<rect x="906.8" y="412.3" width="22" height="20.4"/>
<rect x="1047.9" y="174.2" width="22" height="20.4"/>
<rect x="1100.0" y="113.3" width="22" height="20.4"/>
<rect x="1177.5" y="59.0" width="22" height="20.4"/>
<rect x="1267.3" y="157.1" width="22" height="20.4"/>
<rect x="1421.0" y="315.6" width="22" height="20.4"/>
</g>
<g fill="#FF0000">
<rect x="928.7" y="397.9" width="10.2" height="10.2" rx="3.4"/>
<rect x="940.1" y="380.9" width="10.2" height="10.2" rx="3.4"/>
<rect x="952.0" y="364.5" width="10.2" height="10.2" rx="3.4"/>
<rect x="962.6" y="347.1" width="10.2" height="10.2" rx="3.4"/>
<rect x="973.1" y="330.2" width="10.2" height="10.2" rx="3.4"/>
<rect x="983.3" y="312.4" width="10.2" height="10.2" rx="3.4"/>
<rect x="993.0" y="295.1" width="10.2" height="10.2" rx="3.4"/>
<rect x="1003.1" y="277.4" width="10.2" height="10.2" rx="3.4"/>
<rect x="1013.3" y="259.6" width="10.2" height="10.2" rx="3.4"/>
<rect x="1023.9" y="242.3" width="10.2" height="10.2" rx="3.4"/>
<rect x="1033.9" y="224.0" width="10.2" height="10.2" rx="3.4"/>
<rect x="1043.1" y="206.5" width="10.2" height="10.2" rx="3.4"/>
<rect x="1053.8" y="189.1" width="10.2" height="10.2" rx="3.4"/>
<rect x="1063.6" y="172.9" width="10.2" height="10.2" rx="3.4"/>
<rect x="1075.3" y="155.7" width="10.2" height="10.2" rx="3.4"/>
<rect x="1086.5" y="138.8" width="10.2" height="10.2" rx="3.4"/>
<rect x="1098.8" y="122.9" width="10.2" height="10.2" rx="3.4"/>
<rect x="1110.5" y="107.1" width="10.2" height="10.2" rx="3.4"/>
<rect x="1124.2" y="91.9" width="10.2" height="10.2" rx="3.4"/>
<rect x="1138.6" y="78.9" width="10.2" height="10.2" rx="3.4"/>
<rect x="1157.3" y="67.6" width="10.2" height="10.2" rx="3.4"/>
<rect x="1179.3" y="61.3" width="10.2" height="10.2" rx="3.4"/>
<rect x="1198.6" y="62.8" width="10.2" height="10.2" rx="3.4"/>
<rect x="1215.7" y="70.7" width="10.2" height="10.2" rx="3.4"/>
<rect x="1230.9" y="81.4" width="10.2" height="10.2" rx="3.4"/>
<rect x="1245.7" y="94.1" width="10.2" height="10.2" rx="3.4"/>
<rect x="1259.9" y="108.9" width="10.2" height="10.2" rx="3.4"/>
<rect x="1273.7" y="125.8" width="10.2" height="10.2" rx="3.4"/>
<rect x="1286.4" y="142.1" width="10.2" height="10.2" rx="3.4"/>
<rect x="1298.0" y="158.5" width="10.2" height="10.2" rx="3.4"/>
<rect x="1310.1" y="175.4" width="10.2" height="10.2" rx="3.4"/>
<rect x="1321.8" y="191.3" width="10.2" height="10.2" rx="3.4"/>
<rect x="1332.9" y="208.2" width="10.2" height="10.2" rx="3.4"/>
<rect x="1343.9" y="224.5" width="10.2" height="10.2" rx="3.4"/>
<rect x="1356.1" y="242.0" width="10.2" height="10.2" rx="3.4"/>
<rect x="1367.7" y="258.9" width="10.2" height="10.2" rx="3.4"/>
<rect x="1379.3" y="275.3" width="10.2" height="10.2" rx="3.4"/>
<rect x="1391.5" y="291.1" width="10.2" height="10.2" rx="3.4"/>
<rect x="1403.6" y="305.9" width="10.2" height="10.2" rx="3.4"/>
</g>
<g font-family="'Liberation Serif', serif" fill="#111">
<text transform="translate(833.3,393.0) scale(0.97,1.07)" font-size="26.5" text-anchor="end">11.2</text>
<text transform="translate(833.3,234.1) scale(0.97,1.07)" font-size="26.5" text-anchor="end">11.6</text>
<text transform="translate(833.3,75.3) scale(0.97,1.07)" font-size="26.5" text-anchor="end">12.0</text>
<text transform="translate(865.6,531.2) scale(0.97,1.07)" font-size="26.5" text-anchor="middle">0.4</text>
<text transform="translate(994.3,531.2) scale(0.97,1.07)" font-size="26.5" text-anchor="middle">0.5</text>
<text transform="translate(1123.0,531.2) scale(0.97,1.07)" font-size="26.5" text-anchor="middle">0.6</text>
<text transform="translate(1251.7,531.2) scale(0.97,1.07)" font-size="26.5" text-anchor="middle">0.7</text>
<text transform="translate(1380.4,531.2) scale(0.97,1.07)" font-size="26.5" text-anchor="middle">0.8</text>
<text transform="translate(897.6,75) scale(1,1.06)" font-size="33" font-weight="bold" letter-spacing="2.6">(b)</text>
<text x="1149.6" y="556.3" font-size="37.5" font-style="italic">x<tspan font-size="28" font-style="normal" dy="8.4" dx="0.6">Nb</tspan></text>
<text transform="translate(783.8,331) rotate(-90) scale(0.93,1.04)" font-size="37"><tspan font-style="italic">T</tspan><tspan font-size="24" font-style="italic" dy="8">c</tspan><tspan dy="-8"> (K)</tspan></text>
</g>
</svg>
</body></html>
